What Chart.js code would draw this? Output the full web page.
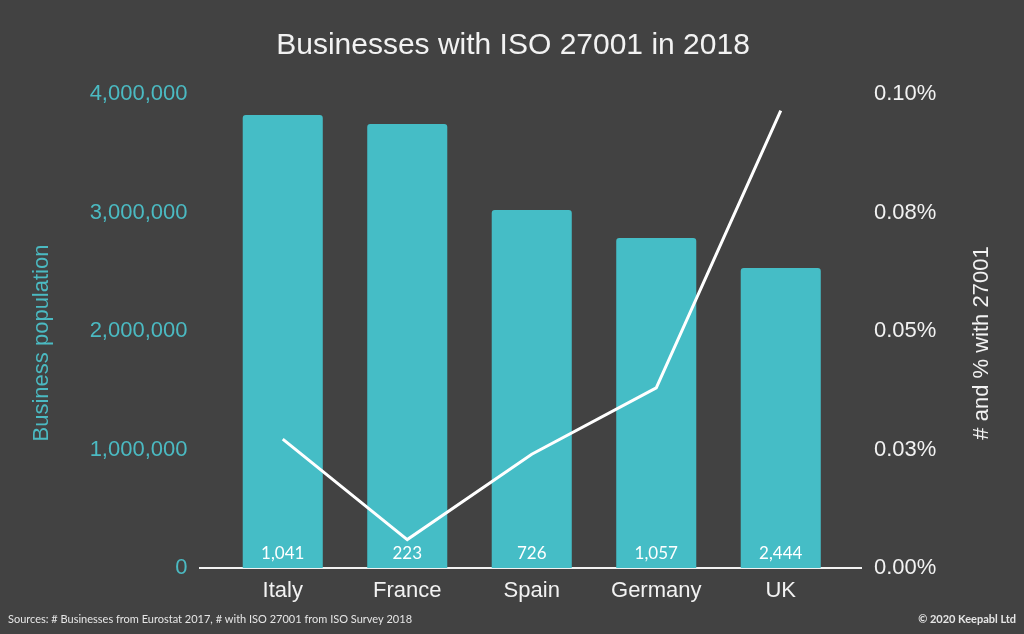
<!DOCTYPE html>
<html>
<head>
<meta charset="utf-8">
<script src="https://cdn.jsdelivr.net/npm/chart.js@4"></script>
<style>
  html, body { margin: 0; padding: 0; background: #424242; }
  #wrap { width: 1024px; height: 634px; }
</style>
</head>
<body>
<div id="wrap"><canvas id="chart" width="1024" height="634"></canvas></div>
<script>
// Data
const countries = ["Italy", "France", "Spain", "Germany", "UK"];
const businessPopulation = [3823000, 3747000, 3021000, 2785000, 2532000];
const iso27001Count = [1041, 223, 726, 1057, 2444];
const iso27001Percent = [0.0272, 0.0060, 0.0240, 0.0380, 0.0965];
const percentTickLabels = ["0.00%", "0.03%", "0.05%", "0.08%", "0.10%"];

const TEAL = "#45bdc6";
const TEAL_TEXT = "#4bbac2";
const WHITE = "#f2f2f2";

// Draws title, axis titles, base line, count labels and footer
const decorations = {
  id: "decorations",
  beforeDatasetsDraw(chart) {
    const { ctx, chartArea } = chart;
    ctx.save();
    ctx.strokeStyle = WHITE;
    ctx.lineWidth = 2;
    ctx.beginPath();
    ctx.moveTo(199, chartArea.bottom);
    ctx.lineTo(862, chartArea.bottom);
    ctx.stroke();
    ctx.restore();
  },
  afterDatasetsDraw(chart) {
    const { ctx } = chart;
    const bars = chart.getDatasetMeta(1).data;
    ctx.save();
    ctx.fillStyle = "#ffffff";
    ctx.font = "17px Lato";
    ctx.textAlign = "center";
    ctx.textBaseline = "middle";
    bars.forEach((bar, i) => {
      ctx.fillText(iso27001Count[i].toLocaleString("en-US"), bar.x, 554);
    });
    ctx.restore();
  },
  afterDraw(chart) {
    const { ctx } = chart;
    ctx.save();
    ctx.fillStyle = WHITE;
    ctx.textAlign = "center";
    ctx.textBaseline = "middle";
    ctx.font = "30px 'Liberation Sans'";
    ctx.fillText("Businesses with ISO 27001 in 2018", 513, 46);

    ctx.font = "22px 'Liberation Sans'";
    ctx.save();
    ctx.translate(42, 343);
    ctx.rotate(-Math.PI / 2);
    ctx.fillStyle = TEAL_TEXT;
    ctx.fillText("Business population", 0, 0);
    ctx.restore();

    ctx.save();
    ctx.translate(982, 343);
    ctx.rotate(-Math.PI / 2);
    ctx.fillText("# and % with 27001", 0, 0);
    ctx.restore();

    ctx.font = "11px Lato";
    ctx.fillStyle = "#e6e6e6";
    ctx.textAlign = "left";
    ctx.fillText("Sources: # Businesses from Eurostat 2017, # with ISO 27001 from ISO Survey 2018", 8, 619);
    ctx.font = "bold 11px Lato";
    ctx.textAlign = "right";
    ctx.fillText("\u00a9 2020 Keepabl Ltd", 1016, 619);
    ctx.restore();
  }
};

new Chart(document.getElementById("chart"), {
  data: {
    labels: countries,
    datasets: [
      {
        type: "line",
        label: "% with 27001",
        data: iso27001Percent,
        yAxisID: "y1",
        borderColor: "#ffffff",
        borderWidth: 3,
        pointRadius: 0,
        tension: 0,
        order: 0
      },
      {
        type: "bar",
        label: "Business population",
        data: businessPopulation,
        yAxisID: "y",
        backgroundColor: TEAL,
        borderRadius: { topLeft: 3, topRight: 3 },
        borderSkipped: "start",
        barPercentage: 0.643,
        categoryPercentage: 1,
        order: 1
      }
    ]
  },
  options: {
    responsive: false,
    animation: false,
    layout: { padding: { top: 94, bottom: 0, left: 0, right: 0 } },
    plugins: {
      legend: { display: false },
      title: { display: false },
      tooltip: { enabled: false }
    },
    scales: {
      x: {
        grid: { display: false, drawTicks: false },
        border: { display: false },
        ticks: {
          color: WHITE,
          font: { family: "'Liberation Sans'", size: 22 },
          padding: 10
        },
        afterFit(scale) { scale.height = 66; }
      },
      y: {
        position: "left",
        min: 0,
        max: 4000000,
        grid: { display: false, drawTicks: false },
        border: { display: false },
        ticks: {
          stepSize: 1000000,
          color: TEAL_TEXT,
          padding: 33,
          font: { family: "'Liberation Sans'", size: 22 },
          callback: (v) => v.toLocaleString("en-US")
        },
        afterFit(scale) { scale.width = 220.5; }
      },
      y1: {
        position: "right",
        min: 0,
        max: 0.1,
        grid: { display: false, drawTicks: false },
        border: { display: false },
        ticks: {
          stepSize: 0.025,
          color: WHITE,
          padding: 31,
          font: { family: "'Liberation Sans'", size: 22 },
          callback: (v, i) => percentTickLabels[i]
        },
        afterFit(scale) { scale.width = 181; }
      }
    }
  },
  plugins: [decorations]
});
</script>
</body>
</html>
